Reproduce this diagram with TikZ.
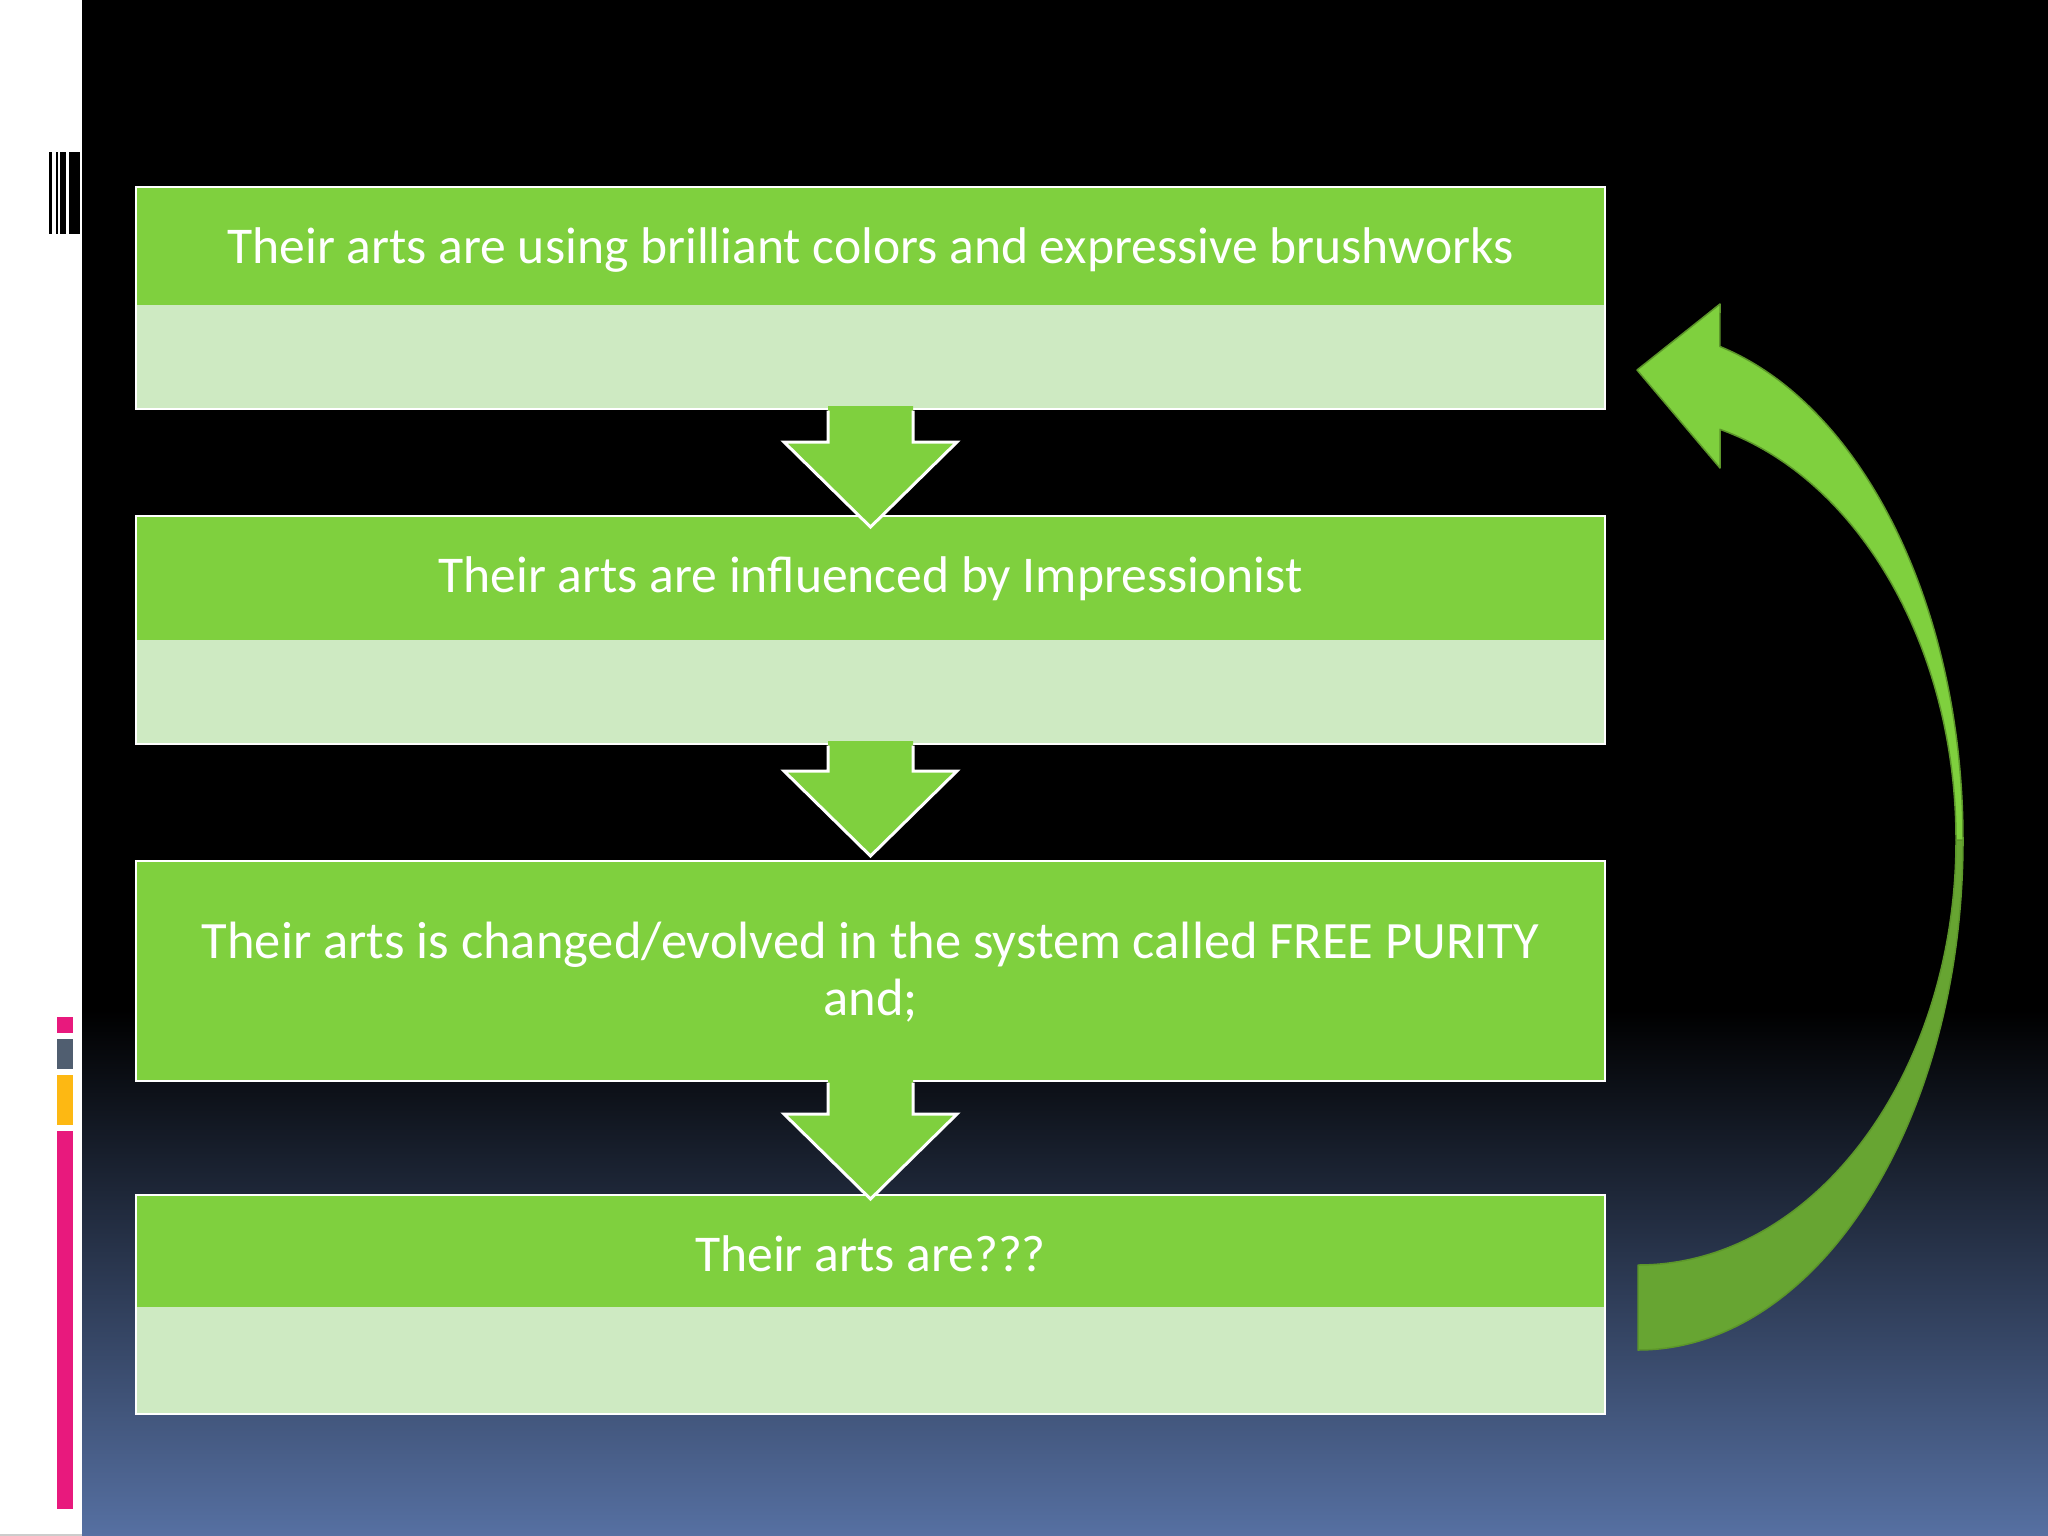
\documentclass[tikz,border=0pt]{standalone}
\usepackage{fontspec}
\setmainfont{Carlito}
\usetikzlibrary{calc}
\definecolor{hdr}{RGB}{127,208,62}
\definecolor{lite}{RGB}{206,234,194}
\definecolor{darkband}{RGB}{103,165,50}
\definecolor{bandline}{RGB}{92,150,42}
\definecolor{bluebot}{RGB}{86,112,162}
\definecolor{pinkc}{RGB}{232,25,125}
\definecolor{grayc}{RGB}{80,94,112}
\definecolor{yellc}{RGB}{253,184,19}
\newcommand{\dnarrow}[2]{%
  \fill[hdr] ($(#1.south)+(-42.5,-3)$) -- ++(0,#2+3) -- ++(-44,0) -- ++(86.5,85) -- ++(86.5,-85) -- ++(-44,0) -- ++(0,-#2-3) -- cycle;
  \draw[white, line width=3pt, line join=miter] ($(#1.south)+(-42.5,1.5)$) -- ++(0,#2-1.5) -- ++(-44,0) -- ++(86.5,85) -- ++(86.5,-85) -- ++(-44,0) -- ++(0,-#2+1.5);
}
\begin{document}
\begin{tikzpicture}[x=1pt,y=-1pt,
  boxbase/.style={fill=lite, minimum width=1469pt, inner sep=0pt, outer sep=0pt},
  hdrbox/.style={fill=hdr, minimum width=1469pt, inner sep=0pt, outer sep=0pt},
  txt/.style={text=white, inner sep=0pt, font=\fontsize{51.6}{57}\selectfont, align=center},
  boxline/.style={draw=white, line width=2.5pt},
  band/.style={draw=bandline, line width=1.5pt, line join=round}]
\useasboundingbox (0,0) rectangle (2048,1536);
% background
\fill[black] (82,0) rectangle (2048,1536);
\shade[top color=black, bottom color=bluebot] (82,1010) rectangle (2048,1536);
\fill[white] (0,0) rectangle (82,1536);
\fill[black!20] (0,1534) rectangle (82,1536);
% barcode
\fill[black] (49,152) rectangle (52,234);
\fill[black] (55.5,152) rectangle (58.3,234);
\fill[black] (60,152) rectangle (66,234);
\fill[black] (69.3,152) rectangle (80,234);
% colour strips
\fill[pinkc] (57,1017) rectangle (73,1033);
\fill[grayc] (57,1038.5) rectangle (73,1068.6);
\fill[yellc] (57,1074.7) rectangle (73,1125.4);
\fill[pinkc] (57,1130.7) rectangle (73,1509);
% boxes
\node[boxbase, minimum height=222pt] (b1) at (870.5,298) {};
\node[hdrbox, minimum height=118pt] (h1) at (870.5,246) {};
\node[txt] (t1) at (870.5,250) {Their arts are using brilliant colors and expressive brushworks};
\draw[boxline] (b1.north west) rectangle (b1.south east);

\node[boxbase, minimum height=228pt] (b2) at (870.5,630) {};
\node[hdrbox, minimum height=124pt] (h2) at (870.5,578) {};
\node[txt] (t2) at (870.5,579) {Their arts are influenced by Impressionist};
\draw[boxline] (b2.north west) rectangle (b2.south east);

\node[hdrbox, minimum height=220pt] (b3) at (870.5,971) {};
\node[txt, font=\fontsize{52.5}{57}\selectfont] (t3) at (870.5,972) {Their arts is changed/evolved in the system called FREE PURITY\\and;};
\draw[boxline] (b3.north west) rectangle (b3.south east);

\node[boxbase, minimum height=219pt] (b4) at (870.5,1304.5) {};
\node[hdrbox, minimum height=112pt] (h4) at (870.5,1251) {};
\node[txt] (t4) at (870.5,1254) {Their arts are???};
\draw[boxline] (b4.north west) rectangle (b4.south east);
% down arrows
\dnarrow{b1}{33}
\dnarrow{b2}{27}
\dnarrow{b3}{33}
% curved arrow from b4 back to b1
\coordinate (tip) at (1637,370);
\filldraw[band, fill=darkband] (1963,840) arc[start angle=0, end angle=90, x radius=325, y radius=510]
  -- (1638,1265) arc[start angle=90, end angle=0, x radius=318, y radius=425] -- cycle;
\filldraw[band, fill=hdr] (1719.9,346.5) arc[start angle=-75.4, end angle=0, x radius=325, y radius=510]
  -- (1956,840) arc[start angle=0, end angle=-75.06, x radius=318, y radius=425]
  -- (1720,468) -- (tip) -- (1720,304) -- cycle;
\end{tikzpicture}
\end{document}
